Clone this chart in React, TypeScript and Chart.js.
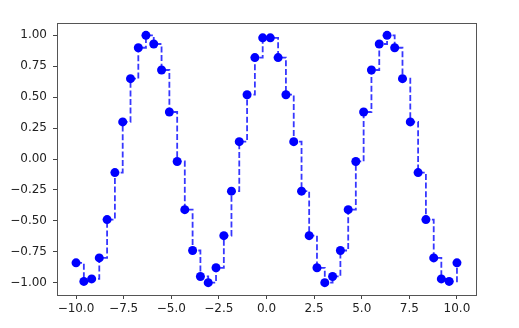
import React, { useEffect, useRef } from "react";
import { Chart, registerables } from "chart.js";

Chart.register(...registerables);

const xValues = [
  -10.0, -9.59, -9.18, -8.78, -8.37, -7.96, -7.55, -7.14, -6.73, -6.33,
  -5.92, -5.51, -5.1, -4.69, -4.29, -3.88, -3.47, -3.06, -2.65, -2.24,
  -1.84, -1.43, -1.02, -0.61, -0.2, 0.2, 0.61, 1.02, 1.43, 1.84,
  2.24, 2.65, 3.06, 3.47, 3.88, 4.29, 4.69, 5.1, 5.51, 5.92,
  6.33, 6.73, 7.14, 7.55, 7.96, 8.37, 8.78, 9.18, 9.59, 10.0,
];

const yValues = [
  -0.84, -0.99, -0.97, -0.8, -0.49, -0.11, 0.3, 0.65, 0.9, 1.0,
  0.93, 0.72, 0.38, -0.02, -0.41, -0.74, -0.95, -1.0, -0.88, -0.62,
  -0.26, 0.14, 0.52, 0.82, 0.98, 0.98, 0.82, 0.52, 0.14, -0.26,
  -0.62, -0.88, -1.0, -0.95, -0.74, -0.41, -0.02, 0.38, 0.72, 0.93,
  1.0, 0.9, 0.65, 0.3, -0.11, -0.49, -0.8, -0.97, -0.99, -0.84,
];

const xTicks = [-10, -7.5, -5, -2.5, 0, 2.5, 5, 7.5, 10];
const yTicks = [-1, -0.75, -0.5, -0.25, 0, 0.25, 0.5, 0.75, 1];

const fmt = (v: number, d: number) => v.toFixed(d).replace("-", "\u2212");

const framePlugin = {
  id: "frame",
  afterDraw(chart: any) {
    const { ctx, chartArea } = chart;
    ctx.save();
    ctx.strokeStyle = "#555";
    ctx.lineWidth = 1;
    ctx.strokeRect(
      Math.round(chartArea.left) + 0.5,
      Math.round(chartArea.top) + 0.5,
      Math.round(chartArea.right - chartArea.left),
      Math.round(chartArea.bottom - chartArea.top)
    );
    ctx.restore();
  },
};

export default function App() {
  const ref = useRef<HTMLCanvasElement | null>(null);
  useEffect(() => {
    if (!ref.current) return;
    const font = { family: "DejaVu Sans", size: 12 };
    const chart = new Chart(ref.current, {
      type: "scatter",
      data: {
        datasets: [
          {
            data: xValues.map((x, i) => ({ x, y: yValues[i] })),
            showLine: true,
            stepped: true,
            borderColor: "rgba(20,20,255,0.85)",
            borderWidth: 1.8,
            borderDash: [6, 2.6],
            pointRadius: 4.5,
            pointBackgroundColor: "#0000ff",
            pointBorderWidth: 0,
          } as any,
        ],
      },
      options: {
        responsive: false,
        animation: false,
        events: [],
        layout: { padding: { top: 23, right: 43, left: 0, bottom: 0 } },
        plugins: { legend: { display: false }, tooltip: { enabled: false } },
        scales: {
          x: {
            type: "linear",
            min: -11,
            max: 11,
            afterBuildTicks: (s: any) => {
              s.ticks = xTicks.map((v) => ({ value: v }));
            },
            afterFit: (s: any) => {
              s.height = 33;
            },
            ticks: {
              callback: (v: any) => fmt(Number(v), 1),
              font,
              color: "#222",
              padding: 3,
              maxRotation: 0,
              autoSkip: false,
            },
            grid: {
              drawOnChartArea: false,
              drawTicks: true,
              tickLength: 4,
              color: "#444",
            },
            border: { display: true, color: "#555" },
          },
          y: {
            type: "linear",
            min: -1.1,
            max: 1.1,
            afterBuildTicks: (s: any) => {
              s.ticks = yTicks.map((v) => ({ value: v }));
            },
            afterFit: (s: any) => {
              s.width = 57;
            },
            ticks: {
              callback: (v: any) => fmt(Number(v), 2),
              font,
              color: "#222",
              padding: 6,
              autoSkip: false,
            },
            grid: {
              drawOnChartArea: false,
              drawTicks: true,
              tickLength: 4,
              color: "#444",
            },
            border: { display: true, color: "#555" },
          },
        },
      },
      plugins: [framePlugin],
    });
    return () => chart.destroy();
  }, []);
  return (
    <div style={{ position: "absolute", left: 0, top: 0, width: 519, height: 328, background: "#fff" }}>
      <canvas ref={ref} width={519} height={328} style={{ width: 519, height: 328 }} />
    </div>
  );
}
